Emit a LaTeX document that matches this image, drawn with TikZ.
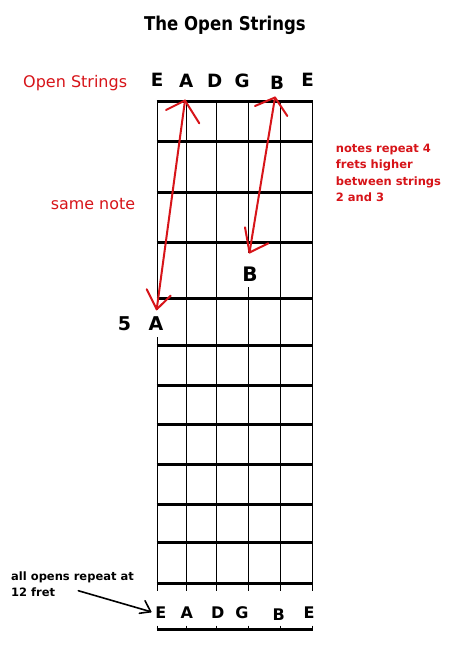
\documentclass[tikz,border=0pt]{standalone}
\usepackage{fontspec}
\setmainfont{DejaVu Sans}
\newfontfamily\titlefont[FakeStretch=0.87]{DejaVu Sans}
\definecolor{pred}{RGB}{215,20,25}
\begin{document}
\begin{tikzpicture}[x=1pt,y=-1pt,
  fret/.style={line width=3pt},
  nut/.style={line width=3.5pt},
  str/.style={line width=1.4pt},
  redarrow/.style={draw=pred,line width=2pt,line cap=round,line join=round},
  blkarrow/.style={draw=black,line width=1.6pt,line cap=round,line join=round},
  notelbl/.style={font=\bfseries\fontsize{18.3}{20}\selectfont,inner sep=0pt,anchor=base},
  botlbl/.style={font=\bfseries\fontsize{16}{18}\selectfont,inner sep=0pt,anchor=base},
  redtxt/.style={text=pred,font=\fontsize{16}{18}\selectfont,inner sep=0pt,anchor=base west},
  smallred/.style={text=pred,font=\bfseries\fontsize{11.5}{13}\selectfont,inner sep=0pt,anchor=base west},
  smallblk/.style={text=black,font=\bfseries\fontsize{11.5}{13}\selectfont,inner sep=0pt,anchor=base west}]
\useasboundingbox[fill=white] (0,0) rectangle (464,656);

% title
\node[font=\titlefont\bfseries\fontsize{19}{22}\selectfont,inner sep=0pt,anchor=base] (title) at (225,30) {The Open Strings};

% strings
\foreach \x in {186.3,216.7,280.3,312.3}
  \draw[str] (\x,101.5) -- (\x,591);
\draw[str] (157.3,101.5) -- (157.3,310) (157.3,337) -- (157.3,591);
\draw[str] (248.7,101.5) -- (248.7,253) (248.7,287) -- (248.7,591);

% nut and frets
\draw[nut] (156.6,101.6) -- (313.3,101.6);
\foreach \y in {141.3,192,242.5,298.3,345,385,424.3,464.3,504.7,542.3,583.3}
  \draw[fret] (156.6,\y) -- (313,\y);

% bottom line with ticks
\draw[line width=2.5pt] (156.6,629.3) -- (313,629.3);
\foreach \x in {157.3,186.3,216.7,248.7,280.3,312.3}
  \draw[str] (\x,625.5) -- (\x,629);

% top labels
\node[redtxt] (open) at (23,87.3) {Open Strings};
\node[notelbl] (tE) at (157.2,86.7) {E};
\node[notelbl] (tA) at (186.3,87.5) {A};
\node[notelbl] (tD) at (214.7,87) {D};
\node[notelbl] (tG) at (242.2,87) {G};
\node[notelbl] (tB) at (277.2,89.3) {B};
\node[notelbl] (te) at (307.7,86.7) {E};

% side texts
\node[redtxt,font=\fontsize{15.9}{18}\selectfont] (same) at (50.7,209.3) {same note};
\node[smallred] (n1) at (335.7,152.7) {notes repeat 4};
\node[smallred] (n2) at (335.7,168.9) {frets higher};
\node[smallred] (n3) at (335.7,185.1) {between strings};
\node[smallred] (n4) at (335.7,201.3) {2 and 3};

% fretted notes
\node[notelbl,font=\bfseries\fontsize{19}{21}\selectfont] (five) at (124.5,330.7) {5};
\node[notelbl,font=\bfseries\fontsize{19}{21}\selectfont] (fA) at (156,330) {A};
\node[notelbl,font=\bfseries\fontsize{20}{22}\selectfont] (fB) at (250,281.7) {B};

% bottom labels
\node[botlbl] (bE) at (160.8,618.3) {E};
\node[botlbl] (bA) at (186.7,618.3) {A};
\node[botlbl] (bD) at (217.7,618.3) {D};
\node[botlbl] (bG) at (242,618.3) {G};
\node[botlbl] (bB) at (278.7,620.7) {B};
\node[botlbl] (be) at (309.2,618.3) {E};

\node[smallblk] (all1) at (11,580.7) {all opens repeat at};
\node[smallblk] (all2) at (11,596.7) {12 fret};

% red arrow A
\coordinate (t1) at (185,100.5);
\coordinate (b1) at (156.7,309.3);
\draw[redarrow] (t1) -- (b1);
\draw[redarrow] (166,110) -- (t1) -- (199.3,123.3);
\draw[redarrow] (146.7,289.3) -- (b1) -- (170.7,295.7);

% red arrow B
\coordinate (t2) at (275,97.5);
\coordinate (b2) at (249.5,252.5);
\draw[redarrow] (t2) -- (b2);
\draw[redarrow] (255,106) -- (t2) -- (287.3,116);
\draw[redarrow] (245,227.3) -- (b2) -- (268.3,243.3);

% black arrow
\coordinate (s3) at (78.3,590.7);
\coordinate (t3) at (150.7,611.7);
\draw[blkarrow] (s3) -- (t3);
\draw[blkarrow] (145,600.7) -- (t3) -- (139.3,613.3);
\end{tikzpicture}
\end{document}
